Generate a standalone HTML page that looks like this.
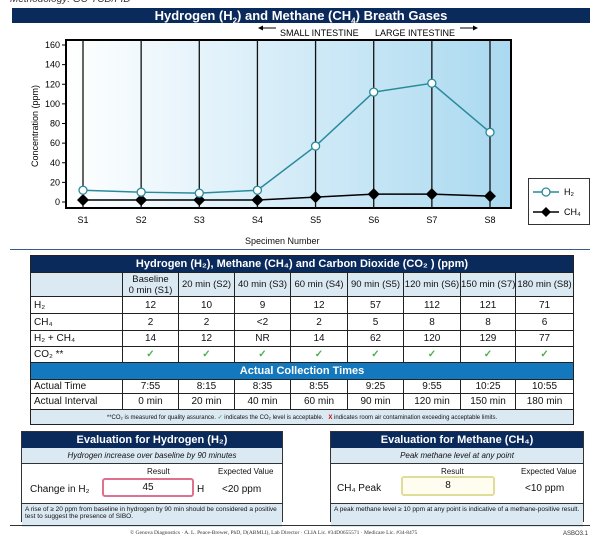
<!DOCTYPE html>
<html><head><meta charset="utf-8"><style>
body{margin:0;width:600px;height:550px;background:#fff;font-family:"Liberation Sans",sans-serif;position:relative;overflow:hidden;color:#111}
.abs{position:absolute}
.bar{background:#0b2a5c;color:#fff;font-weight:bold;text-align:center}
table{border-collapse:collapse;font-size:10px;table-layout:fixed}
td{border:1px solid #222;text-align:center;padding:0;white-space:nowrap;overflow:hidden}
.lab{text-align:left;padding-left:3px;background:#fff}
.chk{color:#4caf50;font-weight:bold}
.hd td{font-size:9.5px}
</style></head><body>
<div class="abs" style="left:10px;top:-6px;font-size:10px;font-style:italic;color:#333">Methodology: GC-TCD/FID</div>
<div class="abs bar" style="left:12px;top:8px;width:578px;height:15px;font-size:13px;line-height:15px">Hydrogen (H<sub style="font-size:8px">2</sub>) and Methane (CH<sub style="font-size:8px">4</sub>) Breath Gases</div>
<svg class="abs" style="left:0;top:0" width="600" height="250">
<defs><linearGradient id="bg" x1="0" x2="1"><stop offset="0" stop-color="#ffffff"/><stop offset="1" stop-color="#aad9f0"/></linearGradient></defs>
<g id="g"></g>
</svg>
<div class="abs" style="left:528px;top:178px;width:60px;height:45px;border:1px solid #333;background:#fff;font-size:9px">
<svg width="60" height="45"><line x1="4" y1="13" x2="30" y2="13" stroke="#2a8a9a" stroke-width="1.5"/><circle cx="17" cy="13" r="4" fill="#fff" stroke="#2a8a9a" stroke-width="1.3"/><text x="35" y="16" font-size="9" font-family="Liberation Sans">H₂</text>
<line x1="4" y1="33" x2="30" y2="33" stroke="#000" stroke-width="1.5"/><path d="M17 28 L22 33 L17 38 L12 33Z"/><text x="35" y="36" font-size="9" font-family="Liberation Sans">CH₄</text></svg></div>
<div class="abs" style="left:245px;top:236px;font-size:9px">Specimen Number</div>
<div class="abs" style="left:10px;top:249px;width:580px;height:1px;background:#3a5a8a"></div>

<table class="abs" style="left:30px;top:255px;width:543px">
<colgroup><col style="width:92px"><col style="width:56px"><col style="width:56px"><col style="width:56px"><col style="width:57px"><col style="width:56px"><col style="width:57px"><col style="width:55px"><col style="width:58px"></colgroup>
<tr style="height:17px"><td colspan="9" class="bar" style="font-size:11px">Hydrogen (H₂), Methane (CH₄) and Carbon Dioxide (CO₂ ) (ppm)</td></tr>
<tr class="hd" style="height:24px;background:#dbe9f3"><td></td><td>Baseline<br>0 min (S1)</td><td>20 min (S2)</td><td>40 min (S3)</td><td>60 min (S4)</td><td>90 min (S5)</td><td>120 min (S6)</td><td>150 min (S7)</td><td>180 min (S8)</td></tr>
<tr style="height:17px"><td class="lab">H₂</td><td>12</td><td>10</td><td>9</td><td>12</td><td>57</td><td>112</td><td>121</td><td>71</td></tr>
<tr style="height:17px"><td class="lab">CH₄</td><td>2</td><td>2</td><td>&lt;2</td><td>2</td><td>5</td><td>8</td><td>8</td><td>6</td></tr>
<tr style="height:16px"><td class="lab">H₂ + CH₄</td><td>14</td><td>12</td><td>NR</td><td>14</td><td>62</td><td>120</td><td>129</td><td>77</td></tr>
<tr style="height:16px"><td class="lab">CO₂ **</td><td class="chk">✓</td><td class="chk">✓</td><td class="chk">✓</td><td class="chk">✓</td><td class="chk">✓</td><td class="chk">✓</td><td class="chk">✓</td><td class="chk">✓</td></tr>
<tr style="height:17px"><td colspan="9" style="background:#1478be;color:#fff;font-weight:bold;font-size:11px">Actual Collection Times</td></tr>
<tr style="height:14px"><td class="lab">Actual Time</td><td>7:55</td><td>8:15</td><td>8:35</td><td>8:55</td><td>9:25</td><td>9:55</td><td>10:25</td><td>10:55</td></tr>
<tr style="height:16px"><td class="lab">Actual Interval</td><td>0 min</td><td>20 min</td><td>40 min</td><td>60 min</td><td>90 min</td><td>120 min</td><td>150 min</td><td>180 min</td></tr>
<tr style="height:15px;background:#dbe9f3"><td colspan="9" style="font-size:6px">**CO₂ is measured for quality assurance. <span class="chk">✓</span> indicates the CO₂ level is acceptable. &nbsp; <b style="color:#c00">X</b> indicates room air contamination exceeding acceptable limits.</td></tr>
</table>

<div class="abs" style="left:21px;top:431px;width:260px;height:89px;border:1px solid #333;font-size:10px">
<div class="bar" style="height:16px;line-height:16px;font-size:11px">Evaluation for Hydrogen (H₂)</div>
<div style="height:15px;line-height:15px;background:#dbe9f3;text-align:center;font-style:italic;font-size:8px;border-bottom:1px solid #333">Hydrogen increase over baseline by 90 minutes</div>
<div style="position:relative;height:39px">
<span class="abs" style="left:125px;top:3px;font-size:8px">Result</span><span class="abs" style="left:196px;top:3px;font-size:8px">Expected Value</span>
<span class="abs" style="left:8px;top:20px">Change in H₂</span>
<div class="abs" style="left:80px;top:14px;width:88px;height:15px;border:2px solid #e07090;border-radius:3px;text-align:center;line-height:15px">45</div>
<span class="abs" style="left:175px;top:20px">H</span><span class="abs" style="left:200px;top:20px">&lt;20 ppm</span></div>
<div style="background:#dbe9f3;height:19px;font-size:6.5px;padding:2px 3px;border-top:1px solid #333">A rise of ≥ 20 ppm from baseline in hydrogen by 90 min should be considered a positive test to suggest the presence of SIBO.</div></div>

<div class="abs" style="left:330px;top:431px;width:252px;height:89px;border:1px solid #333;font-size:10px">
<div class="bar" style="height:16px;line-height:16px;font-size:11px">Evaluation for Methane (CH₄)</div>
<div style="height:15px;line-height:15px;background:#dbe9f3;text-align:center;font-style:italic;font-size:8px;border-bottom:1px solid #333">Peak methane level at any point</div>
<div style="position:relative;height:39px">
<span class="abs" style="left:110px;top:3px;font-size:8px">Result</span><span class="abs" style="left:190px;top:3px;font-size:8px">Expected Value</span>
<span class="abs" style="left:6px;top:19px">CH₄ Peak</span>
<div class="abs" style="left:70px;top:12px;width:90px;height:16px;border:2px solid #e0dc9a;border-radius:3px;background:#fffdf0;text-align:center;line-height:16px">8</div>
<span class="abs" style="left:194px;top:19px">&lt;10 ppm</span></div>
<div style="background:#dbe9f3;height:19px;font-size:6.5px;padding:2px 3px;border-top:1px solid #333">A peak methane level ≥ 10 ppm at any point is indicative of a methane-positive result.</div></div>

<div class="abs" style="left:10px;top:525px;width:580px;height:1px;background:#333"></div>
<div class="abs" style="left:130px;top:530px;font-size:5.5px;font-family:'Liberation Serif',serif;color:#333">© Genova Diagnostics · A. L. Peace-Brewer, PhD, D(ABMLI), Lab Director · CLIA Lic. #34D0655571 · Medicare Lic. #34-8475</div>
<div class="abs" style="left:563px;top:531px;font-size:6px;color:#333">ASBO3.1</div>

<script>
const specimens=["S1","S2","S3","S4","S5","S6","S7","S8"];
const h2=[12,10,9,12,57,112,121,71];
const ch4=[2,2,2,2,5,8,8,6];
const yTicks=[0,20,40,60,80,100,120,140,160];
const L=66,R=511,T=40,B=208;
const x=i=>83+i*(490-83)/(specimens.length-1);
const y=v=>202-v*(202-45)/160;
const NS="http://www.w3.org/2000/svg",g=document.getElementById('g');
function mk(t,a){const e=document.createElementNS(NS,t);for(const k in a)e.setAttribute(k,a[k]);g.appendChild(e);return e;}
let e=mk('rect',{x:L,y:T,width:R-L,height:B-T,fill:'url(#bg)',stroke:'#000','stroke-width':2});

specimens.forEach((s,i)=>{
 e=mk('line',{x1:x(i),x2:x(i),y1:T,y2:B,stroke:'#111','stroke-width':1.3});
 
 e=mk('text',{x:x(i),y:223,'text-anchor':'middle','font-size':9,'font-family':'Liberation Sans'});e.textContent=s;
 
});
yTicks.forEach(v=>{
 mk('line',{x1:L-4,x2:L,y1:y(v),y2:y(v),stroke:'#000'});
 e=mk('text',{x:L-6,y:y(v)+3,'text-anchor':'end','font-size':9,'font-family':'Liberation Sans'});e.textContent=v;
 
});
e=mk('text',{x:0,y:0,transform:'translate(38,126) rotate(-90)','text-anchor':'middle','font-size':9,'font-family':'Liberation Sans'});e.textContent='Concentration (ppm)';

e=mk('polyline',{points:ch4.map((v,i)=>x(i)+','+y(v)).join(' '),fill:'none',stroke:'#000','stroke-width':1.5});

ch4.forEach((v,i)=>{e=mk('path',{d:`M${x(i)} ${y(v)-6}L${x(i)+6} ${y(v)}L${x(i)} ${y(v)+6}L${x(i)-6} ${y(v)}Z`,fill:'#000'});
 });
e=mk('polyline',{points:h2.map((v,i)=>x(i)+','+y(v)).join(' '),fill:'none',stroke:'#2a8a9a','stroke-width':1.5});

h2.forEach((v,i)=>{e=mk('circle',{cx:x(i),cy:y(v),r:4,fill:'#fff',stroke:'#2a8a9a','stroke-width':1.3});
 });
mk('line',{x1:262,x2:276,y1:28,y2:28,stroke:'#000'});mk('path',{d:'M258 28l5-2.5v5z'});
e=mk('text',{x:280,y:36,'font-size':9,'font-family':'Liberation Sans'});e.textContent='SMALL INTESTINE';

e=mk('text',{x:375,y:36,'font-size':9,'font-family':'Liberation Sans'});e.textContent='LARGE INTESTINE';

mk('line',{x1:460,x2:474,y1:28,y2:28,stroke:'#000'});mk('path',{d:'M478 28l-5-2.5v5z'});
</script>
</body></html>
